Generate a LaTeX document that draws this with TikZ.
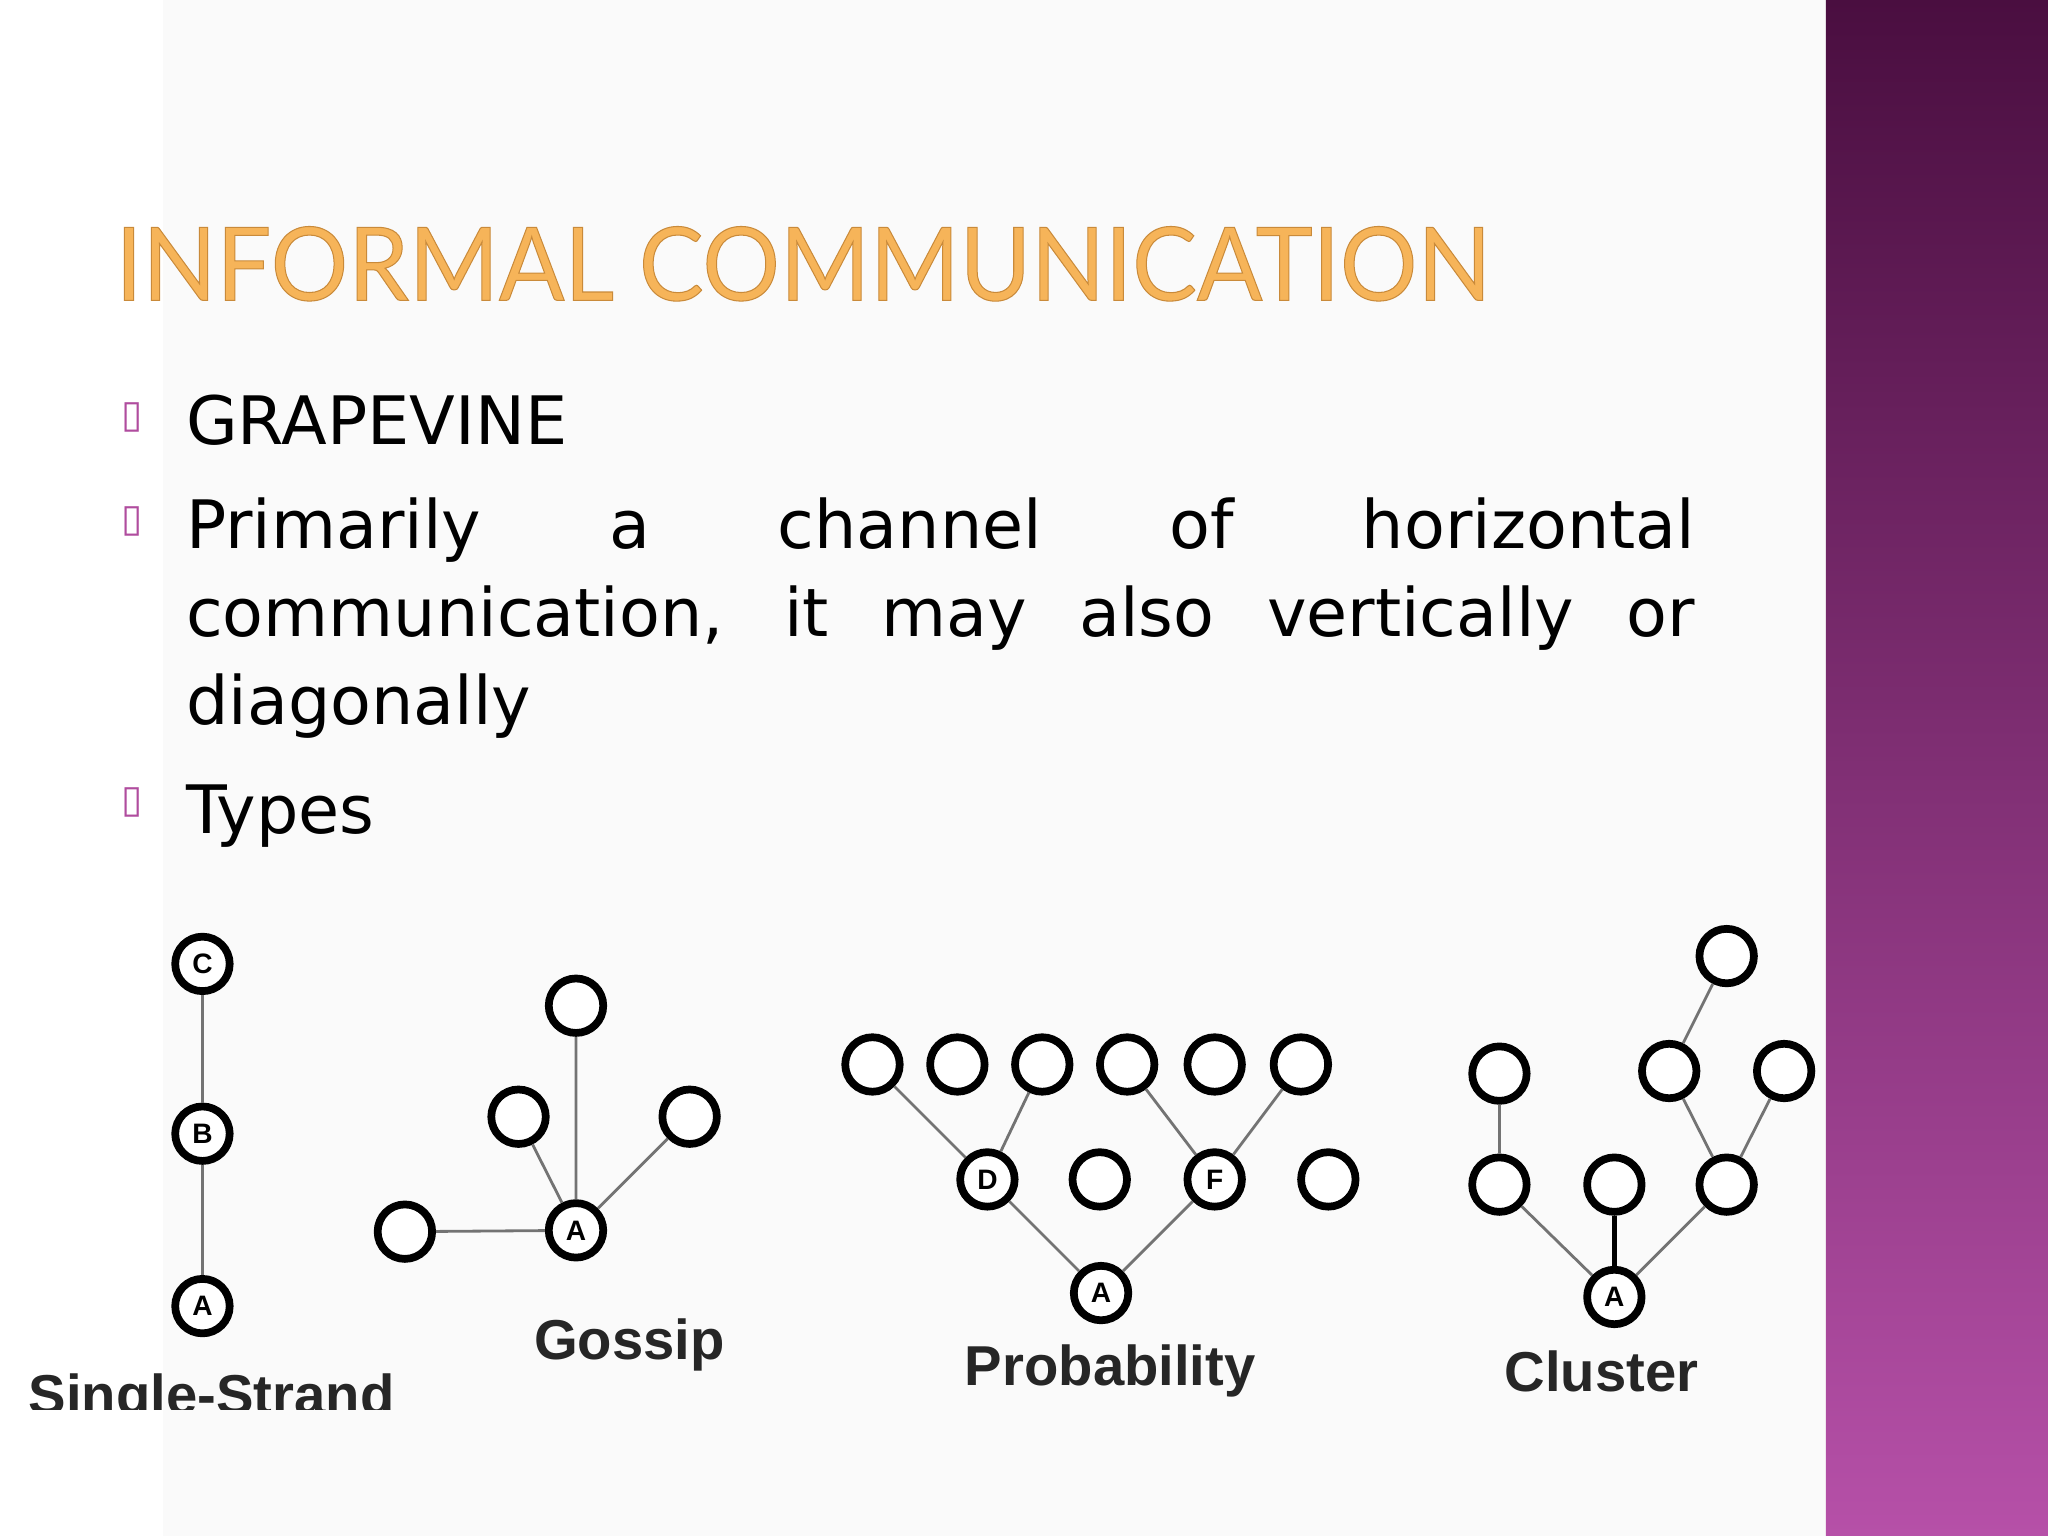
\documentclass[tikz,border=0pt]{standalone}
\usepackage{fontspec}
\setmainfont{DejaVu Sans}
\newfontfamily\titlefont{Lato}
\newfontfamily\labfont{Liberation Sans}
\definecolor{barTop}{HTML}{4A0E40}
\definecolor{barBot}{HTML}{B650A8}
\definecolor{titleOr}{HTML}{F6B459}
\definecolor{titleEdge}{HTML}{C98A3A}
\definecolor{bulletC}{HTML}{B04C9E}
\tikzset{
  pers/.style={circle,draw=black,line width=2.2pt,minimum size=15.5pt,inner sep=0pt,fill=white,font=\labfont\bfseries\fontsize{8}{8}\selectfont},
  link/.style={draw=black!55,line width=0.8pt},
  tlab/.style={font=\labfont\bfseries\fontsize{16}{16}\selectfont,text=black!85},
  bul/.style={anchor=base west,font=\fontsize{19}{25}\selectfont}
}
\begin{document}
\begin{tikzpicture}[x=0.01306cm,y=-0.01306cm]
\useasboundingbox (0,0) rectangle (1568,1176);
\fill[white] (0,0) rectangle (1568,1176);
\fill[black!2] (125,0) rectangle (1398,1176);
\shade[top color=barTop,bottom color=barBot] (1398,0) rectangle (1568,1176);
\node[anchor=west,inner sep=0pt,xscale=0.95,font=\titlefont\fontsize{29}{29}\selectfont,text=titleOr] (title) at (88,202) {\pgfsetstrokecolor{titleEdge}\pgfsetlinewidth{0.3pt}\special{pdf:literal 2 Tr}INFORMAL COMMUNICATION\special{pdf:literal 0 Tr}};
\node[anchor=base,text=bulletC,font=\fontsize{11}{11}\selectfont] (b1) at (101,327) {▯};
\node[anchor=base,text=bulletC,font=\fontsize{11}{11}\selectfont] (b2) at (101,407) {▯};
\node[anchor=base,text=bulletC,font=\fontsize{11}{11}\selectfont] (b3) at (101,622) {▯};
\node[bul,inner sep=0pt] (t1) at (142,340) {GRAPEVINE};
\node[bul,inner sep=0pt,text width=1158*0.3707pt,align=justify] (t2) at (142,420) {\hyphenpenalty=10000 Primarily a channel of horizontal\linebreak communication, it may also vertically or\linebreak diagonally};
\node[bul,inner sep=0pt] (t3) at (142,638) {Types};
% single strand
\node[pers] (sC) at (155,738) {C};
\node[pers] (sB) at (155,868) {B};
\node[pers] (sA) at (155,1000) {A};
\draw[link] (sC)--(sB) (sB)--(sA);
\begin{scope}
\clip (0,1000) rectangle (400,1079);
\node[tlab] (lS) at (162,1072) {Single-Strand};
\end{scope}
% gossip
\node[pers] (gA) at (441,942) {A};
\node[pers] (g1) at (441,770) {};
\node[pers] (g2) at (397,855) {};
\node[pers] (g3) at (528,855) {};
\node[pers] (g4) at (310,943) {};
\draw[link] (gA)--(g1) (gA)--(g2) (gA)--(g3) (gA)--(g4);
\node[tlab] (lG) at (482,1030) {Gossip};
% probability
\foreach \x/\n in {668/p1,733/p2,798/p3,863/p4,930/p5,996/p6}{\node[pers] (\n) at (\x,815) {};}
\node[pers] (pD) at (756,903) {D};
\node[pers] (pm) at (842,903) {};
\node[pers] (pF) at (930,903) {F};
\node[pers] (pr) at (1017,903) {};
\node[pers] (pA) at (843,990) {A};
\draw[link] (pD)--(p1) (pD)--(p3) (pF)--(p4) (pF)--(p6) (pA)--(pD) (pA)--(pF);
\node[tlab] (lP) at (850,1050) {Probability};
% cluster
\node[pers] (c0) at (1322,732) {};
\node[pers] (c1) at (1148,822) {};
\node[pers] (c2) at (1278,820) {};
\node[pers] (c3) at (1366,820) {};
\node[pers] (c4) at (1148,907) {};
\node[pers] (c5) at (1236,907) {};
\node[pers] (c6) at (1322,907) {};
\node[pers] (cA) at (1236,993) {A};
\draw[link] (c0)--(c2) (c1)--(c4) (c2)--(c6) (c3)--(c6) (cA)--(c4) (cA)--(c6);
\draw[draw=black,line width=1.3pt] (cA)--(c5);
\node[tlab] (lC) at (1226,1050) {Cluster};
\end{tikzpicture}
\end{document}
